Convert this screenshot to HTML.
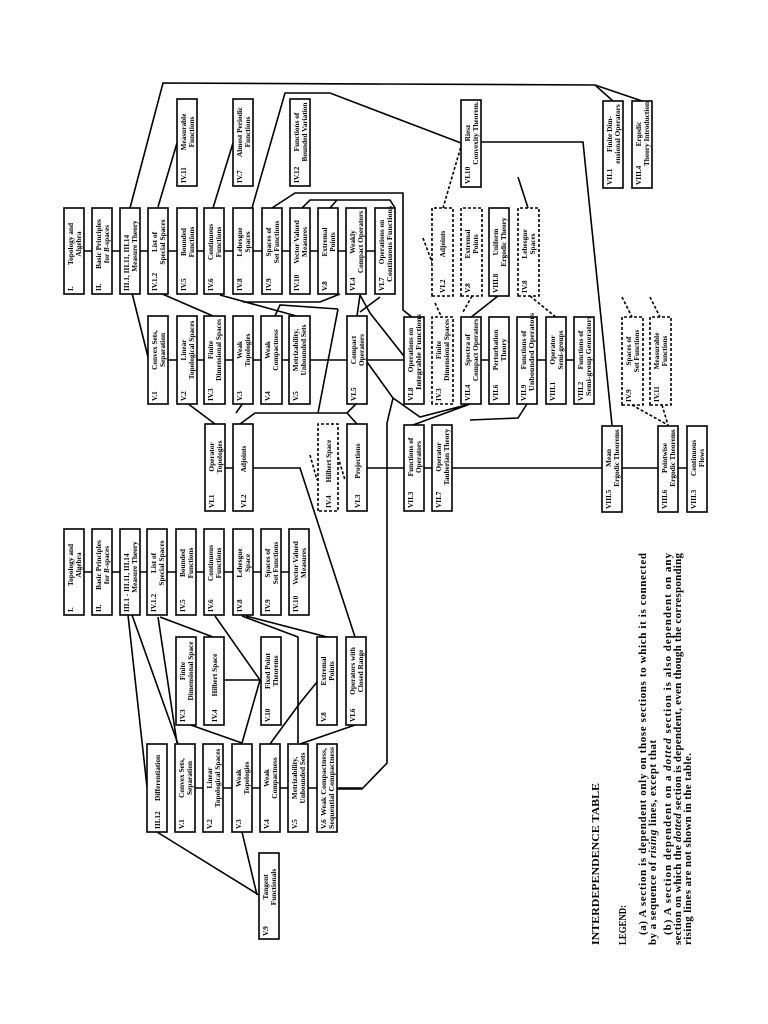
<!DOCTYPE html>
<html><head><meta charset="utf-8"><style>
html,body{margin:0;padding:0;background:#fff;}
svg{display:block;}
text{font-family:"Liberation Serif",serif;font-size:7.3px;fill:#000;font-weight:600;}
.m{text-anchor:middle;}
rect{fill:#fff;stroke:#000;stroke-width:1.6;}
.d rect{stroke-dasharray:3,2;}
.l{fill:none;stroke:#000;stroke-width:1.6;}
.dl{fill:none;stroke:#000;stroke-width:1.6;stroke-dasharray:3,2;}
.lg{font-size:11px;font-weight:bold;}
.b{font-weight:bold;}
</style></head><body>
<svg width="768" height="1024" viewBox="0 0 768 1024" xmlns="http://www.w3.org/2000/svg">

<path class="l" d="M64 251H395"/>
<path class="l" d="M148 360H424"/>
<path class="l" d="M461 360H509 M517 360H594"/>
<path class="l" d="M205 468H253 L300 468 L355 637"/>
<path class="l" d="M347 468H707"/>
<path class="l" d="M130 208 L163 83 L595 85 L613 101 M595 85 L642 101"/>
<path class="l" d="M158 207 L177 143"/>
<path class="l" d="M213 208 L233 143"/>
<path class="l" d="M252 208 L285 93 L330 93 L461 143"/>
<path class="l" d="M272 208 L295 193 L403 193 L403 310 L413 318"/>
<path class="l" d="M302 208 L310 200 L390 200 L395 208 M330 208 L337 200"/>
<path class="l" d="M481 142 L583 142 L612 425"/>
<path class="dl" d="M462 143 L443 208"/>
<path class="l" d="M498 296 L470 318"/>
<path class="dl" d="M530 296 L557 318"/>
<path class="l" d="M518 177 L528 208"/>
<path class="dl" d="M472 296 L463 312"/>
<path class="dl" d="M423 238 L433 265"/>
<path class="dl" d="M435 303 L442 318"/>
<path class="dl" d="M622 297 L632 317 M650 297 L660 317"/>
<path class="dl" d="M632 405 L668 425 M662 405 L668 425"/>
<path class="l" d="M132 293 L148 357"/>
<path class="l" d="M160 293 L213 316"/>
<path class="l" d="M220 295 L300 317"/>
<path class="l" d="M243 302 L320 302 L340 294"/>
<path class="l" d="M275 316 L280 305 L338 309"/>
<path class="l" d="M338 309 L318 413"/>
<path class="l" d="M360 295 L357 316 M380 297 L360 312"/>
<path class="l" d="M360 295 L370 313 L407 360"/>
<path class="l" d="M367 362 L393 398 L387 423 L387 763 L362 789 L337 789"/>
<path class="l" d="M393 398 L420 417 L470 404 M470 404 L413 425 M527 404 L518 418 L470 420"/>
<path class="l" d="M187 403 L215 424"/>
<path class="l" d="M243 403 L236 413"/>
<path class="l" d="M240 424 L255 413 L347 413 L357 403 M347 413 L357 424"/>
<path class="dl" d="M310 455 L317 480 M338 457 L345 480"/>

<path class="l" d="M64 572H309"/>
<path class="l" d="M224 680H261"/>
<path class="l" d="M175 788H362"/>
<path class="l" d="M128 615 L147 787"/>
<path class="l" d="M132 615 L178 744"/>
<path class="l" d="M158 617 L177 743 M160 617 L213 637"/>
<path class="l" d="M215 616 L260 680 L242 743 M185 723 L242 743"/>
<path class="l" d="M242 616 L298 637 L298 743 M246 616 L327 637"/>
<path class="l" d="M317 682 L300 703 L270 744"/>
<path class="l" d="M355 725 L300 744"/>
<path class="l" d="M157 832 L259 895 M242 832 L257 895"/>

<g transform="translate(177,186) rotate(-90)"><rect width="87" height="20"/><text x="3" y="9">IV.11</text><text class="m" x="54" y="9">Measurable</text><text class="m" x="54" y="17">Functions</text></g>
<g transform="translate(233,186) rotate(-90)"><rect width="87" height="20"/><text x="3" y="9">IV.7</text><text class="m" x="54" y="9">Almost Periodic</text><text class="m" x="54" y="17">Functions</text></g>
<g transform="translate(290,186) rotate(-90)"><rect width="87" height="20"/><text x="3" y="9">IV.12</text><text class="m" x="54" y="9">Functions of</text><text class="m" x="54" y="17">Bounded Variation</text></g>
<g transform="translate(461,187) rotate(-90)"><rect width="87" height="20"/><text x="3" y="9">VI.10</text><text class="m" x="54" y="9">Riesz</text><text class="m" x="54" y="17">Convexity Theorem.</text></g>
<g transform="translate(603,188) rotate(-90)"><rect width="87" height="20"/><text x="3" y="9">VII.1</text><text class="m" x="54" y="9">Finite Dim-</text><text class="m" x="54" y="17">ensional Operators</text></g>
<g transform="translate(632,188) rotate(-90)"><rect width="87" height="20"/><text x="3" y="9">VIII.4</text><text class="m" x="54" y="9">Ergodic</text><text class="m" x="54" y="17">Theory Introduction</text></g>

<g transform="translate(64,294) rotate(-90)"><rect width="86" height="20"/><text x="3" y="9">I.</text><text class="m" x="50" y="9">Topology and</text><text class="m" x="50" y="17">Algebra</text></g>
<g transform="translate(92,294) rotate(-90)"><rect width="86" height="20"/><text x="3" y="9">II.</text><text class="m" x="50" y="9">Basic Principles</text><text class="m" x="50" y="17">for <tspan font-style="italic">B</tspan>-spaces</text></g>
<g transform="translate(120,294) rotate(-90)"><rect width="86" height="20"/><text x="3" y="9">III.1, III.11, III.14</text><text class="m" x="48" y="17">Measure Theory</text></g>
<g transform="translate(148,294) rotate(-90)"><rect width="86" height="20"/><text x="3" y="9">IV.1.2</text><text class="m" x="52" y="9">List of</text><text class="m" x="52" y="17">Special Spaces</text></g>
<g transform="translate(177,294) rotate(-90)"><rect width="86" height="20"/><text x="3" y="9">IV.5</text><text class="m" x="52" y="9">Bounded</text><text class="m" x="52" y="17">Functions</text></g>
<g transform="translate(204,294) rotate(-90)"><rect width="86" height="20"/><text x="3" y="9">IV.6</text><text class="m" x="52" y="9">Continuous</text><text class="m" x="52" y="17">Functions</text></g>
<g transform="translate(233,294) rotate(-90)"><rect width="86" height="20"/><text x="3" y="9">IV.8</text><text class="m" x="52" y="9">Lebesgue</text><text class="m" x="52" y="17">Spaces</text></g>
<g transform="translate(262,294) rotate(-90)"><rect width="86" height="20"/><text x="3" y="9">IV.9</text><text class="m" x="52" y="9">Spaces of</text><text class="m" x="52" y="17">Set Functions</text></g>
<g transform="translate(290,294) rotate(-90)"><rect width="86" height="20"/><text x="3" y="9">IV.10</text><text class="m" x="52" y="9">Vector Valued</text><text class="m" x="52" y="17">Measures</text></g>
<g transform="translate(318,294) rotate(-90)"><rect width="86" height="20"/><text x="3" y="9">V.8</text><text class="m" x="52" y="9">Extremal</text><text class="m" x="52" y="17">Points</text></g>
<g transform="translate(346,294) rotate(-90)"><rect width="86" height="20"/><text x="3" y="9">VI.4</text><text class="m" x="52" y="9">Weakly</text><text class="m" x="52" y="17">Compact Operators</text></g>
<g transform="translate(375,294) rotate(-90)"><rect width="86" height="20"/><text x="3" y="9">VI.7</text><text class="m" x="52" y="9">Operations on</text><text class="m" x="50" y="17" textLength="76" lengthAdjust="spacingAndGlyphs">Continuous Functions</text></g>
<g class="d" transform="translate(432,296) rotate(-90)"><rect width="88" height="21"/><text x="3" y="13">VI.2</text><text class="m" x="52" y="13">Adjoints</text></g>
<g class="d" transform="translate(461,296) rotate(-90)"><rect width="88" height="21"/><text x="3" y="9">V.8</text><text class="m" x="52" y="9">Extremal</text><text class="m" x="52" y="17">Points</text></g>
<g transform="translate(489,296) rotate(-90)"><rect width="88" height="20"/><text x="3" y="9">VIII.8</text><text class="m" x="54" y="9">Uniform</text><text class="m" x="54" y="17">Ergodic Theory</text></g>
<g class="d" transform="translate(518,296) rotate(-90)"><rect width="88" height="21"/><text x="3" y="9">IV.8</text><text class="m" x="52" y="9">Lebesgue</text><text class="m" x="52" y="17">Spaces</text></g>

<g transform="translate(148,404) rotate(-90)"><rect width="88" height="20"/><text x="3" y="9">V.1</text><text class="m" x="54" y="9">Convex Sets,</text><text class="m" x="54" y="17">Separation</text></g>
<g transform="translate(177,404) rotate(-90)"><rect width="88" height="20"/><text x="3" y="9">V.2</text><text class="m" x="54" y="9">Linear</text><text class="m" x="54" y="17">Topological Spaces</text></g>
<g transform="translate(204,404) rotate(-90)"><rect width="88" height="21"/><text x="3" y="9">IV.3</text><text class="m" x="54" y="9">Finite</text><text class="m" x="54" y="17">Dimensional Spaces</text></g>
<g transform="translate(233,404) rotate(-90)"><rect width="88" height="20"/><text x="3" y="9">V.3</text><text class="m" x="54" y="9">Weak</text><text class="m" x="54" y="17">Topologies</text></g>
<g transform="translate(261,404) rotate(-90)"><rect width="88" height="21"/><text x="3" y="9">V.4</text><text class="m" x="54" y="9">Weak</text><text class="m" x="54" y="17">Compactness</text></g>
<g transform="translate(289,404) rotate(-90)"><rect width="88" height="21"/><text x="3" y="9">V.5</text><text class="m" x="54" y="9">Metrizability,</text><text class="m" x="54" y="17">Unbounded Sets</text></g>
<g transform="translate(347,404) rotate(-90)"><rect width="88" height="20"/><text x="3" y="9">VI.5</text><text class="m" x="54" y="9">Compact</text><text class="m" x="54" y="17">Operators</text></g>
<g transform="translate(404,404) rotate(-90)"><rect width="87" height="20"/><text x="3" y="9">VI.8</text><text class="m" x="54" y="9">Operations on</text><text class="m" x="52" y="17" textLength="76" lengthAdjust="spacingAndGlyphs">Integrable Functions</text></g>
<g class="d" transform="translate(432,404) rotate(-90)"><rect width="87" height="21"/><text x="3" y="9">IV.3</text><text class="m" x="54" y="9">Finite</text><text class="m" x="54" y="17">Dimensional Spaces</text></g>
<g transform="translate(461,404) rotate(-90)"><rect width="87" height="20"/><text x="3" y="9">VII.4</text><text class="m" x="54" y="9">Spectra of</text><text class="m" x="54" y="17">Compact Operators</text></g>
<g transform="translate(489,404) rotate(-90)"><rect width="87" height="20"/><text x="3" y="9">VII.6</text><text class="m" x="54" y="9">Perturbation</text><text class="m" x="54" y="17">Theory</text></g>
<g transform="translate(517,404) rotate(-90)"><rect width="87" height="20"/><text x="3" y="9">VII.9</text><text class="m" x="54" y="9">Functions of</text><text class="m" x="52" y="17" textLength="78" lengthAdjust="spacingAndGlyphs">Unbounded Operators</text></g>
<g transform="translate(546,404) rotate(-90)"><rect width="87" height="20"/><text x="3" y="9">VIII.1</text><text class="m" x="54" y="9">Operator</text><text class="m" x="54" y="17">Semi-groups</text></g>
<g transform="translate(574,404) rotate(-90)"><rect width="87" height="20"/><text x="3" y="9">VIII.2</text><text class="m" x="54" y="9">Functions of</text><text class="m" x="48" y="17" textLength="80" lengthAdjust="spacingAndGlyphs">Semi-group Generators</text></g>
<g class="d" transform="translate(622,405) rotate(-90)"><rect width="88" height="21"/><text x="3" y="9">IV.9</text><text class="m" x="54" y="9">Spaces of</text><text class="m" x="54" y="17">Set Functions</text></g>
<g class="d" transform="translate(650,405) rotate(-90)"><rect width="88" height="21"/><text x="3" y="9">IV.11</text><text class="m" x="54" y="9">Measurable</text><text class="m" x="54" y="17">Functions</text></g>

<g transform="translate(205,511) rotate(-90)"><rect width="87" height="20"/><text x="3" y="9">VI.1</text><text class="m" x="54" y="9">Operator</text><text class="m" x="54" y="17">Topologies</text></g>
<g transform="translate(233,511) rotate(-90)"><rect width="87" height="20"/><text x="3" y="13">VI.2</text><text class="m" x="52" y="13">Adjoints</text></g>
<g class="d" transform="translate(318,511) rotate(-90)"><rect width="87" height="20"/><text x="3" y="13">IV.4</text><text class="m" x="50" y="13">Hilbert Space</text></g>
<g transform="translate(347,511) rotate(-90)"><rect width="87" height="20"/><text x="3" y="13">VI.3</text><text class="m" x="50" y="13">Projections</text></g>
<g transform="translate(404,511) rotate(-90)"><rect width="86" height="20"/><text x="3" y="9">VII.3</text><text class="m" x="54" y="9">Functions of</text><text class="m" x="54" y="17">Operators</text></g>
<g transform="translate(432,511) rotate(-90)"><rect width="86" height="20"/><text x="3" y="9">VII.7</text><text class="m" x="54" y="9">Operator</text><text class="m" x="54" y="17">Tauberian Theory</text></g>
<g transform="translate(602,512) rotate(-90)"><rect width="86" height="20"/><text x="3" y="9">VIII.5</text><text class="m" x="54" y="9">Mean</text><text class="m" x="54" y="17">Ergodic Theorems</text></g>
<g transform="translate(658,512) rotate(-90)"><rect width="86" height="20"/><text x="3" y="9">VIII.6</text><text class="m" x="54" y="9">Pointwise</text><text class="m" x="54" y="17">Ergodic Theorems</text></g>
<g transform="translate(687,512) rotate(-90)"><rect width="86" height="20"/><text x="3" y="9">VIII.3</text><text class="m" x="54" y="9">Continuous</text><text class="m" x="54" y="17">Flows</text></g>

<g transform="translate(64,615) rotate(-90)"><rect width="86" height="20"/><text x="3" y="9">I.</text><text class="m" x="50" y="9">Topology and</text><text class="m" x="50" y="17">Algebra</text></g>
<g transform="translate(92,615) rotate(-90)"><rect width="86" height="20"/><text x="3" y="9">II.</text><text class="m" x="50" y="9">Basic Principles</text><text class="m" x="50" y="17">for <tspan font-style="italic">B</tspan>-spaces</text></g>
<g transform="translate(120,615) rotate(-90)"><rect width="86" height="20"/><text x="3" y="9">III.1 - III.11, III.14</text><text class="m" x="48" y="17">Measure Theory</text></g>
<g transform="translate(147,615) rotate(-90)"><rect width="86" height="20"/><text x="3" y="9">IV.1.2</text><text class="m" x="52" y="9">List of</text><text class="m" x="52" y="17">Special Spaces</text></g>
<g transform="translate(176,615) rotate(-90)"><rect width="86" height="20"/><text x="3" y="9">IV.5</text><text class="m" x="52" y="9">Bounded</text><text class="m" x="52" y="17">Functions</text></g>
<g transform="translate(204,615) rotate(-90)"><rect width="86" height="20"/><text x="3" y="9">IV.6</text><text class="m" x="52" y="9">Continuous</text><text class="m" x="52" y="17">Functions</text></g>
<g transform="translate(233,615) rotate(-90)"><rect width="86" height="20"/><text x="3" y="9">IV.8</text><text class="m" x="52" y="9">Lebesgue</text><text class="m" x="52" y="17">Space</text></g>
<g transform="translate(261,615) rotate(-90)"><rect width="86" height="20"/><text x="3" y="9">IV.9</text><text class="m" x="52" y="9">Spaces of</text><text class="m" x="52" y="17">Set Functions</text></g>
<g transform="translate(289,615) rotate(-90)"><rect width="86" height="20"/><text x="3" y="9">IV.10</text><text class="m" x="52" y="9">Vector Valued</text><text class="m" x="52" y="17">Measures</text></g>

<g transform="translate(176,725) rotate(-90)"><rect width="88" height="20"/><text x="3" y="9">IV.3</text><text class="m" x="54" y="9">Finite</text><text class="m" x="54" y="17">Dimensional Space</text></g>
<g transform="translate(204,725) rotate(-90)"><rect width="88" height="20"/><text x="3" y="13">IV.4</text><text class="m" x="50" y="13">Hilbert Space</text></g>
<g transform="translate(261,725) rotate(-90)"><rect width="88" height="20"/><text x="3" y="9">V.10</text><text class="m" x="54" y="9">Fixed Point</text><text class="m" x="54" y="17">Theorems</text></g>
<g transform="translate(317,725) rotate(-90)"><rect width="88" height="20"/><text x="3" y="9">V.8</text><text class="m" x="54" y="9">Extremal</text><text class="m" x="54" y="17">Points</text></g>
<g transform="translate(346,725) rotate(-90)"><rect width="88" height="20"/><text x="3" y="9">VI.6</text><text class="m" x="54" y="9">Operators with</text><text class="m" x="54" y="17">Closed Range</text></g>

<g transform="translate(147,832) rotate(-90)"><rect width="88" height="20"/><text x="3" y="13">III.12</text><text class="m" x="54" y="13">Differentiation</text></g>
<g transform="translate(175,832) rotate(-90)"><rect width="88" height="20"/><text x="3" y="9">V.1</text><text class="m" x="54" y="9">Convex Sets,</text><text class="m" x="54" y="17">Separation</text></g>
<g transform="translate(203,832) rotate(-90)"><rect width="88" height="20"/><text x="3" y="9">V.2</text><text class="m" x="54" y="9">Linear</text><text class="m" x="54" y="17">Topological Spaces</text></g>
<g transform="translate(232,832) rotate(-90)"><rect width="88" height="20"/><text x="3" y="9">V.3</text><text class="m" x="54" y="9">Weak</text><text class="m" x="54" y="17">Topologies</text></g>
<g transform="translate(260,832) rotate(-90)"><rect width="88" height="20"/><text x="3" y="9">V.4</text><text class="m" x="54" y="9">Weak</text><text class="m" x="54" y="17">Compactness</text></g>
<g transform="translate(288,832) rotate(-90)"><rect width="88" height="20"/><text x="3" y="9">V.5</text><text class="m" x="54" y="9">Metrizability,</text><text class="m" x="54" y="17">Unbounded Sets</text></g>
<g transform="translate(317,832) rotate(-90)"><rect width="88" height="20"/><text x="3" y="9">V.6</text><text x="16" y="9" textLength="68" lengthAdjust="spacingAndGlyphs">Weak Compactness,</text><text class="m" x="44" y="17" textLength="82" lengthAdjust="spacingAndGlyphs">Sequential Compactness</text></g>
<g transform="translate(259,939) rotate(-90)"><rect width="86" height="20"/><text x="3" y="9">V.9</text><text class="m" x="52" y="9">Tangent</text><text class="m" x="52" y="17">Functionals</text></g>

<text class="lg b" transform="translate(599,945) rotate(-90)" textLength="162" lengthAdjust="spacingAndGlyphs">INTERDEPENDENCE TABLE</text>
<text class="lg b" transform="translate(626,945) rotate(-90)" textLength="40" lengthAdjust="spacingAndGlyphs">LEGEND:</text>
<text class="lg" transform="translate(646,935) rotate(-90)" textLength="382" lengthAdjust="spacing">(a) A section is dependent only on those sections to which it is connected</text>
<text class="lg" transform="translate(656,945) rotate(-90)" textLength="205" lengthAdjust="spacing">by a sequence of <tspan font-style="italic">rising</tspan> lines, except that</text>
<text class="lg" transform="translate(671,935) rotate(-90)" textLength="382" lengthAdjust="spacing">(b) A section dependent on a <tspan font-style="italic">dotted</tspan> section is also dependent on any</text>
<text class="lg" transform="translate(681,945) rotate(-90)" textLength="392" lengthAdjust="spacing">section on which the <tspan font-style="italic">dotted</tspan> section is dependent, even though the corresponding</text>
<text class="lg" transform="translate(691,945) rotate(-90)" textLength="192" lengthAdjust="spacing">rising lines are not shown in the table.</text>
</svg>
</body></html>
